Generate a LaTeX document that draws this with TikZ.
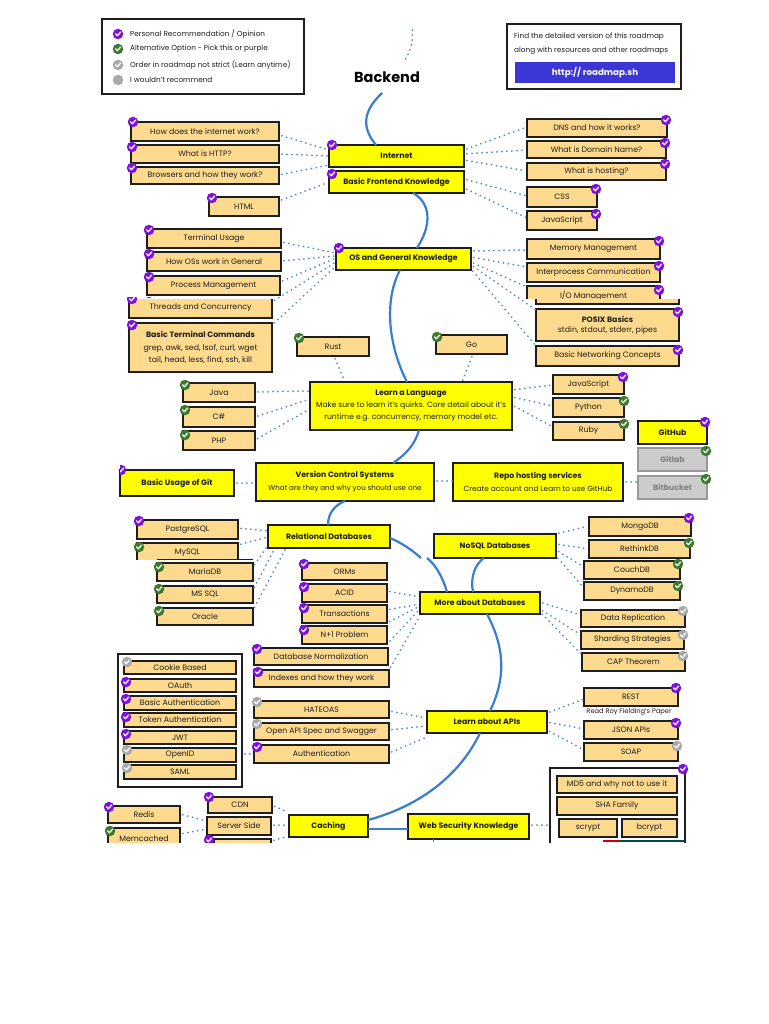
\documentclass[tikz,border=0pt]{standalone}
\usepackage{fontspec}
\setmainfont{Poppins}
\definecolor{tan1}{HTML}{FDDA8E}
\definecolor{yel1}{HTML}{FFFF00}
\definecolor{gry1}{HTML}{CCCCCC}
\definecolor{ink}{HTML}{1E1E1E}
\definecolor{pur}{HTML}{7E12DC}
\definecolor{grn}{HTML}{3B7A2C}
\definecolor{gch}{HTML}{A9A9A9}
\definecolor{lnk}{HTML}{3D36D6}
\definecolor{spinec}{HTML}{3A7DD0}
\definecolor{dotc}{HTML}{4F8BD8}
\newcommand{\fs}{\fontsize{7.8}{12.5}\selectfont}
\newcommand{\fl}{\fontsize{7.3}{12.5}\selectfont}
\tikzset{
 basebox/.style={draw=ink,line width=1.2pt,inner sep=0pt,outer sep=0pt,align=center,text=ink,font=\fs},
 tanbox/.style={basebox,fill=tan1},
 yelbox/.style={basebox,fill=yel1,font=\fs\bfseries},
 yelsub/.style={basebox,fill=yel1},
 grybox/.style={basebox,fill=gry1,draw=gray!80,text=gray,font=\fs\bfseries},
 panel/.style={draw=ink,line width=1.2pt,fill=white,inner sep=0pt,outer sep=0pt},
 lbl/.style={font=\fl,text=ink,anchor=west,inner sep=0pt},
 ckdot/.style={circle,inner sep=0pt,outer sep=0pt,minimum size=10.5pt},
 ckmark/.style={draw=white,line width=1.3pt,line cap=round,line join=round},
 spine/.style={draw=spinec,line width=2.2pt},
 dl/.style={draw=dotc,line width=2pt,line cap=round,dash pattern=on 0pt off 5pt,shorten <=3pt,shorten >=1pt},
}
\newcommand{\bx}[7]{\pgfmathsetmacro\bxw{#5-#3}\pgfmathsetmacro\bxh{#6-#4}\pgfmathsetmacro\bxcx{(#3+#5)/2}\pgfmathsetmacro\bxcy{(#4+#6)/2}\node[#1,minimum width=\bxw pt,minimum height=\bxh pt] (#2) at (\bxcx,\bxcy) {#7};}
\newcounter{ckn}
\newcommand{\ck}[3]{\stepcounter{ckn}\node[ckdot,fill=#3] (ck\theckn) at (#1,#2) {};
 \draw[ckmark] ([shift={(-2.4pt,0.2pt)}]ck\theckn.center) -- ([shift={(-0.6pt,-1.7pt)}]ck\theckn.center) -- ([shift={(2.6pt,1.9pt)}]ck\theckn.center);}
\begin{document}
\begin{tikzpicture}[x=1pt,y=-1pt]
\useasboundingbox (0,0) rectangle (768,1024);
\begin{scope}
\clip (0,0) rectangle (768,842);
% legend and link panels
\bx{panel}{legend}{102}{19}{304}{94}{}
\node[lbl] (l1) at (130,34) {Personal Recommendation / Opinion};
\node[lbl] (l2) at (130,49) {Alternative Option - Pick this or purple};
\node[lbl] (l3) at (130,65) {Order in roadmap not strict (Learn anytime)};
\node[lbl] (l4) at (130,80) {I wouldn't recommend};
\bx{panel}{linkp}{507}{24}{681}{89}{}
\node[lbl] (f1) at (514,37) {Find the detailed version of this roadmap};
\node[lbl] (f2) at (514,51) {along with resources and other roadmaps};
\bx{fill=lnk,inner sep=0pt,text=white,font=\fontsize{8.7}{11}\selectfont\bfseries}{linkb}{515}{62}{675}{83}{http:// roadmap.sh}
\node[font=\fontsize{14.5}{16}\selectfont\bfseries,text=black,inner sep=0pt] (backend) at (387,77) {Backend};
% internet group
\bx{yelbox}{internet}{329}{145}{464}{167}{Internet}
\bx{yelbox}{front}{329}{171}{464}{193}{Basic Frontend Knowledge}
\bx{tanbox}{how}{131}{122}{279}{141}{How does the internet work?}
\bx{tanbox}{http}{131}{145}{279}{163}{What is HTTP?}
\bx{tanbox}{brow}{131}{167}{279}{184}{Browsers and how they work?}
\bx{tanbox}{html}{209}{197}{279}{216}{HTML}
\bx{tanbox}{dns}{527}{119}{667}{137}{DNS and how it works?}
\bx{tanbox}{domain}{527}{141}{666}{158}{What is Domain Name?}
\bx{tanbox}{hosting}{527}{163}{666}{180}{What is hosting?}
\bx{tanbox}{css}{527}{187}{597}{207}{CSS}
\bx{tanbox}{js1}{527}{211}{597}{230}{JavaScript}
% OS group
\bx{yelbox}{os}{336}{248}{471}{270}{OS and General Knowledge}
\bx{tanbox}{term}{147}{229}{281}{248}{Terminal Usage}
\bx{tanbox}{howos}{147}{252}{281}{271}{How OSs work in General}
\bx{tanbox}{proc}{147}{276}{280}{295}{Process Management}
\begin{scope}
\clip (120,297) rectangle (290,299);
\ck{149}{293}{pur}
\end{scope}
\begin{scope}
\clip (120,299) rectangle (290,325);
\bx{tanbox}{threads}{129}{297}{272}{318}{Threads and Concurrency}
\end{scope}
\bx{tanbox}{bterm}{129}{323}{272}{372}{{\bfseries Basic Terminal Commands}\\grep, awk, sed, lsof, curl, wget\\tail, head, less, find, ssh, kill}
\bx{tanbox}{mem}{527}{239}{660}{259}{Memory Management}
\bx{tanbox}{ipc}{527}{263}{660}{282}{Interprocess Communication}
\bx{tanbox}{io}{527}{286}{660}{306}{I/O Management}
\fill[white] (520,299) rectangle (690,309);
\fill[tan1] (536,299) rectangle (679,304);
\draw[ink,line width=1.2pt] (536,299) -- (536,304) -- (679,304) -- (679,299);
\bx{tanbox}{posix}{536}{309}{679}{341}{{\bfseries POSIX Basics}\\[-2.5pt]stdin, stdout, stderr, pipes}
\bx{tanbox}{net}{536}{346}{679}{366}{Basic Networking Concepts}
% language
\bx{yelsub}{learn}{310}{382}{512}{430}{{\bfseries Learn a Language}\\[-0.5pt]\fontsize{7.6}{12}\selectfont Make sure to learn it's quirks. Core detail about it's\\[-0.5pt]\fontsize{7.6}{12}\selectfont runtime e.g. concurrency, memory model etc.}
\bx{tanbox}{rust}{297}{337}{369}{356}{Rust}
\bx{tanbox}{go}{436}{335}{507}{354}{Go}
\bx{tanbox}{java}{183}{383}{255}{402}{Java}
\bx{tanbox}{cs}{183}{407}{255}{427}{C\#}
\bx{tanbox}{php}{183}{431}{255}{450}{PHP}
\bx{tanbox}{js2}{553}{375}{624}{394}{JavaScript}
\bx{tanbox}{py}{553}{398}{624}{417}{Python}
\bx{tanbox}{ruby}{553}{422}{624}{440}{Ruby}
% version control
\bx{yelbox}{git}{120}{470}{234}{496}{Basic Usage of Git}
\bx{yelsub}{vcs}{256}{463}{434}{501}{{\bfseries Version Control Systems}\\\fontsize{7.1}{12}\selectfont What are they and why you should use one}
\bx{yelsub}{repo}{453}{463}{623}{501}{{\bfseries Repo hosting services}\\\fontsize{7.4}{12}\selectfont Create account and Learn to use GitHub}
\bx{yelbox}{github}{638}{421}{707}{444}{GitHub}
\bx{grybox}{gitlab}{638}{448}{707}{471}{Gitlab}
\bx{grybox}{bitb}{638}{476}{707}{499}{Bitbucket}
% databases
\bx{yelbox}{rel}{268}{525}{390}{548}{Relational Databases}
\bx{yelbox}{nosql}{434}{534}{556}{558}{NoSQL Databases}
\bx{yelbox}{more}{420}{592}{540}{614}{More about Databases}
\bx{tanbox}{pg}{137}{520}{238}{539}{PostgreSQL}
\begin{scope}
\clip (120,530) rectangle (260,559);
\bx{tanbox}{mysql}{137}{543}{238}{562}{MySQL}
\end{scope}
\draw[ink,line width=1pt] (157,559) -- (253,559);
\bx{tanbox}{maria}{157}{563}{253}{581}{MariaDB}
\bx{tanbox}{mssql}{157}{586}{253}{603}{MS SQL}
\bx{tanbox}{oracle}{157}{608}{253}{625}{Oracle}
\bx{tanbox}{orm}{302}{563}{387}{580}{ORMs}
\bx{tanbox}{acid}{302}{584}{387}{602}{ACID}
\bx{tanbox}{trans}{302}{605}{387}{623}{Transactions}
\bx{tanbox}{nplus}{302}{626}{387}{644}{N+1 Problem}
\bx{tanbox}{norm}{254}{648}{388}{665}{Database Normalization}
\bx{tanbox}{index}{254}{670}{389}{687}{Indexes and how they work}
\bx{tanbox}{mongo}{589}{517}{691}{536}{MongoDB}
\bx{tanbox}{rethink}{589}{540}{690}{558}{RethinkDB}
\bx{tanbox}{couch}{584}{561}{680}{579}{CouchDB}
\bx{tanbox}{dynamo}{584}{582}{680}{600}{DynamoDB}
\bx{tanbox}{drep}{581}{610}{685}{627}{Data Replication}
\bx{tanbox}{shard}{581}{631}{684}{649}{Sharding Strategies}
\bx{tanbox}{cap}{582}{653}{685}{671}{CAP Theorem}
% APIs
\bx{yelbox}{apis}{427}{711}{547}{733}{Learn about APIs}
\bx{tanbox}{hate}{254}{701}{389}{718}{HATEOAS}
\bx{tanbox}{openapi}{254}{723}{389}{740}{Open API Spec and Swagger}
\bx{tanbox}{authn}{254}{745}{389}{763}{Authentication}
\bx{tanbox}{rest}{584}{688}{678}{706}{REST}
\node[font=\fontsize{6.7}{8}\selectfont,text=ink,inner sep=0pt] (fielding) at (629,712) {Read Roy Fielding's Paper};
\bx{tanbox}{jsonapi}{584}{721}{678}{739}{JSON APIs}
\bx{tanbox}{soap}{584}{743}{678}{761}{SOAP}
% auth panel
\bx{panel}{authp}{118}{654}{242}{787}{}
\bx{tanbox}{cookie}{124}{661}{236}{674}{Cookie Based}
\bx{tanbox}{oauth}{124}{679}{236}{692}{OAuth}
\bx{tanbox}{basica}{124}{696}{236}{710}{Basic Authentication}
\bx{tanbox}{token}{124}{713}{236}{727}{Token Authentication}
\bx{tanbox}{jwt}{124}{731}{236}{744}{JWT}
\bx{tanbox}{openid}{124}{748}{236}{762}{OpenID}
\bx{tanbox}{saml}{124}{765}{236}{779}{SAML}
% caching and security
\bx{yelbox}{caching}{289}{815}{368}{837}{Caching}
\bx{yelbox}{web}{408}{814}{529}{839}{Web Security Knowledge}
\bx{tanbox}{cdn}{208}{797}{272}{813}{CDN}
\bx{tanbox}{server}{207}{817}{271}{835}{Server Side}
\bx{tanbox}{client}{214}{839}{271}{858}{}
\bx{tanbox}{redis}{108}{806}{180}{823}{Redis}
\bx{tanbox}{memc}{108}{828}{180}{850}{Memcached}
\bx{panel}{secp}{550}{768}{685}{870}{}
\bx{tanbox}{md5}{557}{776}{677}{793}{MD5 and why not to use it}
\bx{tanbox}{sha}{557}{797}{677}{815}{SHA Family}
\bx{tanbox}{scrypt}{559}{819}{617}{837}{scrypt}
\bx{tanbox}{bcrypt}{622}{819}{677}{837}{bcrypt}
\fill[red!80!black] (603,839.5) rectangle (620,842);
\fill[teal!60!black] (620,839.5) rectangle (685,842);
% spine
\coordinate (s0) at (382,93);
\coordinate (gapa) at (421,558);
\coordinate (gapb) at (427,558);
\draw[spine] (s0) .. controls (362,112) and (362,128) .. (internet.north -| 376,0);
\draw[spine] (front.south -| 413,0) .. controls (431,203) and (432,225) .. (os.north -| 417,0);
\draw[spine] (os.south -| 400,0) .. controls (384,300) and (388,345) .. (learn.north -| 407,0);
\draw[spine] (learn.south -| 419,0) .. controls (415,445) and (405,455) .. (vcs.north -| 393,0);
\draw[spine] (vcs.south -| 345,0) .. controls (335,505) and (328,513) .. (rel.north -| 328,0);
\draw[spine] (rel.east |- 0,538) .. controls (402,543) and (412,550) .. (gapa);
\draw[spine] (gapb) .. controls (436,565) and (443,578) .. (more.north -| 447,0);
\draw[spine] (nosql.south -| 484,0) .. controls (475,564) and (470,578) .. (more.north -| 473,0);
\draw[spine] (more.south -| 487,0) .. controls (506,650) and (505,680) .. (apis.north -| 490,0);
\draw[spine] (apis.south -| 480,0) .. controls (460,775) and (420,806) .. (caching.east |- 0,820);
\draw[spine] (caching.east |- 0,829) -- (web.west |- 0,829);
% top dotted path
\coordinate (t0) at (412,27);
\coordinate (t1) at (405,60);
\draw[dl] (t0) .. controls (413,38) and (412,48) .. (t1);
% dotted connectors
\draw[dl] (how.east |- 0,135) -- (internet.west |- 0,150);
\draw[dl] (http.east |- 0,154) -- (internet.west |- 0,156);
\draw[dl] (brow.east |- 0,175) -- (internet.west |- 0,165);
\draw[dl] (html.east |- 0,201) -- (front.west |- 0,182);
\draw[dl] (internet.east |- 0,150) -- (dns.west |- 0,127);
\draw[dl] (internet.east |- 0,154) -- (domain.west |- 0,150);
\draw[dl] (internet.east |- 0,160) -- (hosting.west |- 0,171);
\draw[dl] (front.east |- 0,179) -- (css.west |- 0,196);
\draw[dl] (front.east |- 0,188) -- (js1.west |- 0,218);
\draw[dl] (term.east |- 0,242) -- (os.west |- 0,253);
\draw[dl] (howos.east |- 0,261) -- (os.west |- 0,256);
\draw[dl] (proc.east |- 0,282) -- (os.west |- 0,258);
\draw[dl] (threads.east |- 0,302) -- (os.west |- 0,262);
\draw[dl] (bterm.east |- 0,325) -- (os.west |- 0,266);
\draw[dl] (os.east |- 0,251) -- (mem.west |- 0,250);
\draw[dl] (os.east |- 0,257) -- (ipc.west |- 0,267);
\draw[dl] (os.east |- 0,262) -- (io.west |- 0,287);
\draw[dl] (os.east |- 0,265) -- (posix.west |- 0,310);
\draw[dl] (os.east |- 0,269) -- (net.west |- 0,346);
\draw[dl] (rust.south -| 334,0) -- (learn.north -| 345,0);
\draw[dl] (go.south -| 473,0) -- (learn.north -| 462,0);
\draw[dl] (java.east |- 0,392) -- (learn.west |- 0,391);
\draw[dl] (cs.east |- 0,417) -- (learn.west |- 0,399);
\draw[dl] (php.east |- 0,440) -- (learn.west |- 0,409);
\draw[dl] (learn.east |- 0,390) -- (js2.west |- 0,385);
\draw[dl] (learn.east |- 0,397) -- (py.west |- 0,406);
\draw[dl] (learn.east |- 0,405) -- (ruby.west |- 0,427);
\draw[dl] (git.east |- 0,483) -- (vcs.west |- 0,483);
\draw[dl] (vcs.east |- 0,481) -- (repo.west |- 0,481);
\draw[dl] (repo.east |- 0,482) -- (bitb.west |- 0,482);
\draw[dl] (pg.east |- 0,528) -- (rel.west |- 0,531);
\draw[dl] (mysql.east |- 0,545) -- (rel.west |- 0,537);
\draw[dl] (maria.east |- 0,567) -- (rel.west |- 0,545);
\draw[dl] (mssql.east |- 0,590) -- (rel.south -| 275,0);
\draw[dl] (oracle.east |- 0,610) -- (rel.south -| 286,0);
\draw[dl] (acid.east |- 0,591) -- (more.west |- 0,597);
\draw[dl] (trans.east |- 0,610) -- (more.west |- 0,604);
\draw[dl] (nplus.east |- 0,623) -- (more.west |- 0,606);
\draw[dl] (norm.east |- 0,643) -- (more.west |- 0,609);
\draw[dl] (index.east |- 0,670) -- (more.west |- 0,616);
\draw[dl] (nosql.east |- 0,534) -- (mongo.west |- 0,526);
\draw[dl] (nosql.east |- 0,544) -- (rethink.west |- 0,549);
\draw[dl] (nosql.east |- 0,550) -- (couch.west |- 0,567);
\draw[dl] (nosql.east |- 0,556) -- (dynamo.west |- 0,588);
\draw[dl] (more.east |- 0,602) -- (drep.west |- 0,615);
\draw[dl] (more.east |- 0,609) -- (shard.west |- 0,635);
\draw[dl] (more.east |- 0,612) -- (cap.west |- 0,655);
\draw[dl] (hate.east |- 0,711) -- (apis.west |- 0,718);
\draw[dl] (openapi.east |- 0,730) -- (apis.west |- 0,726);
\draw[dl] (authn.east |- 0,753) -- (apis.west |- 0,737);
\draw[dl] (apis.east |- 0,713) -- (rest.west |- 0,699);
\draw[dl] (apis.east |- 0,722) -- (jsonapi.west |- 0,729);
\draw[dl] (apis.east |- 0,730) -- (soap.west |- 0,750);
\draw[dl] (authp.east |- 0,754) -- (authn.west |- 0,754);
\draw[dl] (cdn.east |- 0,805) -- (caching.west |- 0,813);
\draw[dl] (server.east |- 0,825) -- (caching.west |- 0,825);
\draw[dl] (client.east |- 0,841) -- (caching.west |- 0,836);
\draw[dl] (redis.east |- 0,814) -- (server.west |- 0,821);
\draw[dl] (memc.east |- 0,834) -- (server.west |- 0,829);
\draw[dl] (web.east |- 0,825) -- (secp.west |- 0,825);
\draw[spine,line width=1pt] (web.south -| 433,0) -- ++(0,3);
% checks
\ck{118}{34}{pur}\ck{118}{49}{grn}\ck{118}{65}{gch}
\node[ckdot,fill=gch] (legendgray) at (118,80) {};
\ck{133}{122}{pur}\ck{132}{147}{pur}\ck{132}{168}{pur}\ck{212}{198}{pur}
\ck{332}{145}{pur}\ck{332}{174}{pur}
\ck{666}{120}{pur}\ck{665}{143}{pur}\ck{665}{164}{pur}\ck{596}{189}{pur}\ck{596}{214}{pur}
\ck{149}{230}{pur}\ck{149}{254}{pur}\ck{149}{277}{pur}\ck{132}{325}{pur}\ck{339}{248}{pur}
\begin{scope}
\clip (120,297) rectangle (290,320);
\ck{132}{299}{pur}
\end{scope}
\ck{659}{241}{pur}\ck{659}{266}{pur}\ck{659}{290}{pur}\ck{678}{312}{pur}\ck{678}{350}{pur}
\ck{299}{338}{grn}\ck{437}{337}{grn}
\ck{185}{385}{grn}\ck{185}{410}{grn}\ck{185}{435}{grn}
\ck{623}{377}{pur}\ck{624}{401}{grn}\ck{624}{424}{grn}
\ck{705}{422}{pur}\ck{706}{451}{grn}\ck{706}{479}{grn}
\begin{scope}
\clip (120,460) rectangle (140,480);
\ck{121}{470}{pur}
\end{scope}
\ck{139}{521}{pur}\ck{139}{547}{grn}\ck{159}{567}{grn}\ck{159}{589}{grn}\ck{159}{611}{grn}
\ck{304}{564}{pur}\ck{304}{587}{pur}\ck{304}{608}{pur}\ck{304}{630}{pur}\ck{257}{649}{pur}\ck{258}{672}{pur}
\ck{689}{518}{pur}\ck{689}{543}{grn}\ck{678}{564}{grn}\ck{678}{586}{grn}
\ck{683}{611}{gch}\ck{683}{635}{gch}\ck{683}{656}{gch}
\ck{127}{662}{gch}\ck{126}{682}{pur}\ck{126}{699}{pur}\ck{126}{717}{pur}\ck{126}{734}{pur}\ck{127}{750}{gch}\ck{127}{768}{gch}
\ck{257}{702}{gch}\ck{257}{724}{gch}\ck{257}{747}{pur}
\ck{676}{688}{pur}\ck{676}{723}{pur}\ck{677}{746}{gch}\ck{683}{769}{pur}
\ck{209}{797}{pur}\ck{109}{807}{pur}\ck{110}{831}{grn}\ck{209}{840}{pur}
\end{scope}
\end{tikzpicture}
\end{document}
